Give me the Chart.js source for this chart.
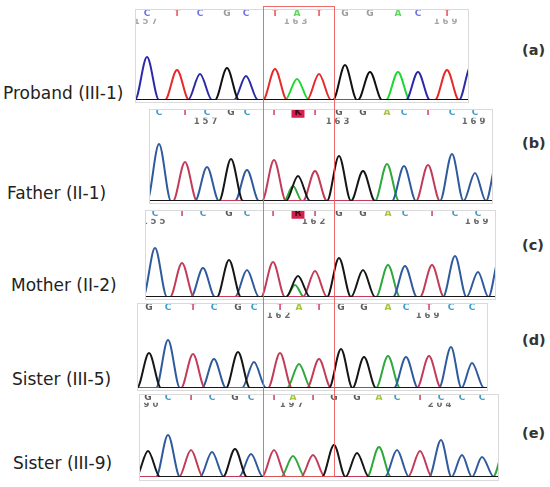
<!DOCTYPE html>
<html><head><meta charset="utf-8">
<script src="https://cdn.jsdelivr.net/npm/chart.js@4.4.1/dist/chart.umd.min.js"></script>
<style>
html,body{margin:0;padding:0;background:#fff;}
body{width:550px;height:487px;position:relative;overflow:hidden;font-family:"DejaVu Sans",sans-serif;}
canvas.trace{position:absolute;outline:1px solid #dadada;}
.lbl{position:absolute;font-size:17px;color:#222;white-space:nowrap;line-height:1;transform:translateY(-50%);}
.tag{position:absolute;font-size:14.5px;font-weight:bold;color:#333;white-space:nowrap;line-height:1;transform:translateY(-50%);}
#box{position:absolute;left:263px;top:6px;width:72px;height:471px;box-sizing:border-box;border:1.5px solid rgba(238,92,92,0.9);pointer-events:none;}
</style></head><body>
<div class="lbl" style="left:3px;top:93px">Proband (III-1)</div>
<div class="lbl" style="left:7px;top:193px">Father (II-1)</div>
<div class="lbl" style="left:11px;top:285px">Mother (II-2)</div>
<div class="lbl" style="left:12px;top:379px">Sister (III-5)</div>
<div class="lbl" style="left:13px;top:463px">Sister (III-9)</div>
<div class="tag" style="left:522px;top:50px">(a)</div>
<div class="tag" style="left:522px;top:143px">(b)</div>
<div class="tag" style="left:522px;top:245px">(c)</div>
<div class="tag" style="left:522px;top:340px">(d)</div>
<div class="tag" style="left:522px;top:433px">(e)</div>
<script>
// ---------- DATA (base calls, peak locations in scan units, peak heights) ----------
// (a) Proband (III-1)
const callsA = ['C','T','C','G','C','T','A','T','G','G','A','C','T','C'];
const peakBaseA = ['C','T','C','G','C','T','A','T','G','G','A','C','T','C'];
const locA = [11,41,64,91,110,139,161,183,209,234,262,282,311,335];
const heightA = [43,30,26,32,24,31,21,26,35,28,28,28,30,34];
const secBaseA = [], secLocA = [], secHeightA = [];
const numIdxA = [0,6,12], numLabA = ['157','163','169'];

// (b) Father (II-1)
const callsB = ['C','T','C','G','C','T','K','T','G','G','A','C','T','C','C','C'];
const peakBaseB = ['C','T','C','G','C','T','G','T','G','G','A','C','T','C','C','C'];
const locB = [9,35,57,81,97,124,148,165,189,213,237,254,278,302,325,347];
const heightB = [57,39,34,42,31,41,25,30,45,30,37,35,36,47,28,40];
const secBaseB = ['A'], secLocB = [143], secHeightB = [15];
const numIdxB = [2,8,14], numLabB = ['157','163','169'];

// (c) Mother (II-2)
const callsC = ['C','T','C','G','C','T','R','T','G','G','A','C','T','C','C','C'];
const peakBaseC = ['C','T','C','G','C','T','G','T','G','G','A','C','T','C','C','C'];
const locC = [9,36,57,83,101,127,152,169,193,217,242,259,286,309,332,353];
const heightC = [49,34,29,37,27,35,21,26,39,27,32,31,32,41,25,38];
const secBaseC = ['A'], secLocC = [149], secHeightC = [12];
const numIdxC = [0,7,14], numLabC = ['155','162','169'];

// (d) Sister (III-5)
const callsD = ['G','C','T','C','G','C','T','A','T','G','G','A','C','T','C','C'];
const peakBaseD = callsD;
const locD = [11,30,55,76,100,116,142,161,181,203,226,250,268,291,313,334];
const heightD = [35,48,34,29,36,26,35,24,29,39,31,32,31,32,41,25];
const secBaseD = [], secLocD = [], secHeightD = [];
const numIdxD = [6,13], numLabD = ['162','169'];

// (e) Sister (III-9)
const callsE = ['G','C','T','C','G','C','T','A','T','G','G','A','C','T','C','C','C','A'];
const peakBaseE = callsE;
const locE = [8,28,51,72,95,111,134,153,173,194,217,239,257,280,301,322,342,365];
const heightE = [26,42,27,25,28,23,27,21,22,32,24,30,27,26,37,22,20,30];
const secBaseE = [], secLocE = [], secHeightE = [];
const numIdxE = [0,7,14], numLabE = ['190','197','204'];

// ---------- STYLE ----------
const PAL = {
  bright: {trace:{A:'#1fd82f',C:'#2b2ba8',G:'#111111',T:'#e62a2a'},
           text:{A:'#5fd65f',C:'#7474e0',G:'#9a9a9a',T:'#ee6464'}, num:'#a8a8a8'},
  muted:  {trace:{A:'#2ea83a',C:'#2f5b9e',G:'#161616',T:'#c23c5a'},
           text:{A:'#a6c43c',C:'#3fa0c6',G:'#5a5a5a',T:'#d05a78',K:'#4a0014',R:'#4a0014'}, num:'#6a6a6a'}
};

const PANELS = [
  {calls:callsA, pb:peakBaseA, loc:locA, h:heightA, sb:secBaseA, sl:secLocA, sh:secHeightA, ni:numIdxA, nl:numLabA, pal:'bright',
   L:136, T:10, R:468, B:102, base:100, hL:8.8, hN:8},
  {calls:callsB, pb:peakBaseB, loc:locB, h:heightB, sb:secBaseB, sl:secLocB, sh:secHeightB, ni:numIdxB, nl:numLabB, pal:'muted',
   L:150, T:110, R:492, B:203, base:201, hL:7.8, hN:9},
  {calls:callsC, pb:peakBaseC, loc:locC, h:heightC, sb:secBaseC, sl:secLocC, sh:secHeightC, ni:numIdxC, nl:numLabC, pal:'muted',
   L:146, T:211, R:495, B:299, base:297, hL:7.8, hN:8},
  {calls:callsD, pb:peakBaseD, loc:locD, h:heightD, sb:secBaseD, sl:secLocD, sh:secHeightD, ni:numIdxD, nl:numLabD, pal:'muted',
   L:138, T:304, R:487, B:390, base:388, hL:8.8, hN:8},
  {calls:callsE, pb:peakBaseE, loc:locE, h:heightE, sb:secBaseE, sl:secLocE, sh:secHeightE, ni:numIdxE, nl:numLabE, pal:'muted',
   L:140, T:395, R:498, B:480, base:477, hL:7.8, hN:7}
];

const HALF_W = 12, SEC_HALF_W = 9;

function tracePoints(color, peaks, xmax) {
  const pk = peaks.filter(p => p.b === color).sort((a, b) => a.x - b.x);
  const pts = [{x: -40, y: 0}];
  let prevX = null;
  pk.forEach(p => {
    const left = p.x - p.w;
    const last = pts[pts.length - 1];
    if (prevX !== null && last.x > left) {
      last.x = (prevX + p.x) / 2;
    } else {
      pts.push({x: left, y: 0});
    }
    pts.push({x: p.x, y: p.y});
    pts.push({x: p.x + p.w, y: 0});
    prevX = p.x;
  });
  pts.push({x: xmax + 60, y: 0});
  return pts;
}

PANELS.forEach(P => {
  const W = P.R - P.L, H = P.B - P.T;
  const cv = document.createElement('canvas');
  cv.className = 'trace';
  cv.width = W; cv.height = H;
  cv.style.left = P.L + 'px'; cv.style.top = P.T + 'px';
  cv.style.width = W + 'px'; cv.style.height = H + 'px';
  document.body.appendChild(cv);
  const pal = PAL[P.pal];

  const peaks = P.loc.map((x, i) => ({b: P.pb[i], x: x, y: P.h[i], w: HALF_W}))
    .concat(P.sl.map((x, i) => ({b: P.sb[i], x: x, y: P.sh[i], w: SEC_HALF_W})));

  // lower 'order' is drawn on top: G (black) on top so the baseline reads dark
  const order = ['G', 'T', 'C', 'A'];
  const datasets = order.map((c, k) => ({
    data: tracePoints(c, peaks, W),
    order: k,
    borderColor: pal.trace[c],
    borderWidth: 2,
    pointRadius: 0,
    fill: false,
    cubicInterpolationMode: 'monotone',
    xAxisID: 'x', yAxisID: 'y'
  }));

  const letterTicks = P.calls.map((c, i) => ({value: P.loc[i], lab: c}))
    .filter(t => t.value >= 0 && t.value <= W - 4);
  const numTicks = P.ni.map((idx, k) => ({value: P.loc[idx], lab: P.nl[k]}));
  const ymax = P.base - P.T - P.hL - P.hN;

  new Chart(cv, {
    type: 'line',
    data: {datasets},
    options: {
      responsive: false,
      animation: false,
      events: [],
      layout: {padding: {top: 0, left: 0, right: 0, bottom: P.B - P.base}},
      plugins: {legend: {display: false}, tooltip: {enabled: false}},
      scales: {
        x: {type: 'linear', min: 0, max: W, display: false},
        xl: {
          type: 'linear', position: 'top', min: 0, max: W, weight: 2,
          grid: {display: false, drawTicks: false}, border: {display: false},
          afterBuildTicks: s => { s.ticks = letterTicks.map(t => ({value: t.value, lab: t.lab})); },
          afterFit: s => { s.height = P.hL; s.paddingLeft = 0; s.paddingRight = 0; },
          ticks: {
            autoSkip: false, maxRotation: 0, minRotation: 0, padding: 0,
            font: {family: 'DejaVu Sans', weight: 'bold', size: 9},
            callback: (v, i, t) => t[i].lab,
            color: ctx => pal.text[ctx.tick && ctx.tick.lab] || '#666',
            showLabelBackdrop: ctx => !!(ctx.tick && (ctx.tick.lab === 'K' || ctx.tick.lab === 'R')),
            backdropColor: '#d42050',
            backdropPadding: {x: 3, y: 1}
          }
        },
        xn: {
          type: 'linear', position: 'top', min: 0, max: W, weight: 1,
          grid: {display: false, drawTicks: false}, border: {display: false},
          afterBuildTicks: s => { s.ticks = numTicks.map(t => ({value: t.value, lab: t.lab})); },
          afterFit: s => {
            s.height = P.hN; s.paddingLeft = 0; s.paddingRight = 0;
            if (!s._spaced) {
              const orig = s.drawLabels.bind(s);
              s.drawLabels = function (ca) {
                const c = this.ctx, prev = c.letterSpacing;
                c.letterSpacing = '3px';
                orig(ca);
                c.letterSpacing = prev || '0px';
              };
              s._spaced = true;
            }
          },
          ticks: {
            autoSkip: false, maxRotation: 0, minRotation: 0, padding: 0,
            font: {family: 'DejaVu Sans', weight: 'bold', size: 8.5},
            callback: (v, i, t) => t[i].lab,
            color: pal.num
          }
        },
        y: {type: 'linear', min: 0, max: ymax, display: false}
      }
    }
  });
});
</script>
<div id="box"></div>
</body></html>
